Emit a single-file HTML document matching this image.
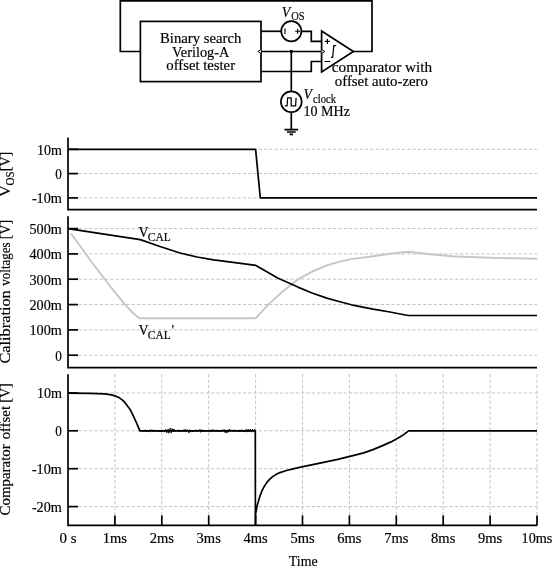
<!DOCTYPE html>
<html><head><meta charset="utf-8"><title>Figure</title>
<style>html,body{margin:0;padding:0;background:#fff}svg{display:block}svg text{font-family:"Liberation Serif","DejaVu Serif",serif}</style></head>
<body>
<svg width="553" height="567" viewBox="0 0 553 567"  fill="#000" stroke="none">
<rect width="553" height="567" fill="#fff"/>
<g fill="none" stroke="#000" stroke-width="1.7" stroke-linejoin="miter">
<path d="M140.5,51.5 H120.3 V0.9 H372 V51.5 H353"/>
<rect x="140.4" y="21.4" width="120.6" height="60.2"/>
<path d="M261.1,31.3 H281.2"/>
<circle cx="291.3" cy="31.2" r="10.1"/>
<path d="M301.4,31.3 H311.3 V41.4 H321.8"/>
<path d="M261.1,51.5 H321.8"/>
<path d="M261.1,71.5 H311.3 V61.5 H321.8"/>
<path d="M321.6,31.0 L353.4,51.5 L321.6,71.9 Z"/>
<path d="M291.3,51.5 V91.3"/>
<circle cx="291.3" cy="101.7" r="10.4"/>
<path d="M291.3,112.1 V129.6"/>
<path d="M284.5,129.6 H298.1 M286.9,132 H295.7 M289.6,134.3 H293"/>
<path d="M284.9,105.9 H287.1 L287.6,97.9 H291.2 V105.9 H295.6 L296.1,97.9" stroke-width="1.25"/>
<path d="M261,49.6 L257.9,51.5 L261,53.4" stroke-width="1" fill="#fff"/>
<path d="M321.7,49.7 L324.8,51.5 L321.7,53.3" stroke-width="1" fill="#fff"/>
<path d="M285,28.5 V34 M295.2,31.2 H300.2 M297.7,28.7 V33.7" stroke-width="1.1"/>
<path d="M324.9,41.4 H329.9 M327.4,38.9 V43.9 M324.5,61.5 H330.3" stroke-width="1.2"/>
<path d="M336.2,45.6 H333.8 L332.7,57.4 H331.0" stroke-width="1.2"/>
</g>
<circle cx="291.3" cy="51.5" r="1.8" fill="#000"/>
<text x="200.7" y="43.0" font-size="14.5" text-anchor="middle" textLength="81.3" lengthAdjust="spacingAndGlyphs" stroke="#111" stroke-width="0.2" >Binary search</text>
<text x="200.7" y="56.7" font-size="14.5" text-anchor="middle" textLength="57.2" lengthAdjust="spacingAndGlyphs" stroke="#111" stroke-width="0.2" >Verilog-A</text>
<text x="200.7" y="70.3" font-size="14.5" text-anchor="middle" textLength="68.7" lengthAdjust="spacingAndGlyphs" stroke="#111" stroke-width="0.2" >offset tester</text>
<text x="382.0" y="72.2" font-size="14.5" text-anchor="middle" textLength="100.3" lengthAdjust="spacingAndGlyphs" stroke="#111" stroke-width="0.2" >comparator with</text>
<text x="381.4" y="86.0" font-size="14.5" text-anchor="middle" textLength="93.1" lengthAdjust="spacingAndGlyphs" stroke="#111" stroke-width="0.2" >offset auto-zero</text>
<text x="281.8" y="17.4" font-size="14.5" stroke="#111" stroke-width="0.2"><tspan font-style="italic" font-size="14">V</tspan><tspan x="291.2" y="20.3" font-size="12.5" textLength="13.4" lengthAdjust="spacingAndGlyphs">OS</tspan></text>
<text x="303.5" y="99.2" font-size="14.5" stroke="#111" stroke-width="0.2"><tspan font-style="italic" font-size="14">V</tspan><tspan x="313.0" y="102.9" font-size="12.5" textLength="23" lengthAdjust="spacingAndGlyphs">clock</tspan></text>
<text x="303.4" y="115.9" font-size="14.5" text-anchor="start" textLength="46.5" lengthAdjust="spacingAndGlyphs" stroke="#111" stroke-width="0.2" >10 MHz</text>
<line x1="68.0" y1="149.3" x2="537.0" y2="149.3" stroke="#c2c2c2" stroke-width="1" stroke-dasharray="3.2,2.1"/>
<line x1="68.0" y1="173.6" x2="537.0" y2="173.6" stroke="#c2c2c2" stroke-width="1" stroke-dasharray="3.2,2.1"/>
<line x1="68.0" y1="197.9" x2="537.0" y2="197.9" stroke="#c2c2c2" stroke-width="1" stroke-dasharray="3.2,2.1"/>
<line x1="68.0" y1="149.3" x2="78.0" y2="149.3" stroke="#000" stroke-width="1.7" />
<line x1="68.0" y1="173.6" x2="78.0" y2="173.6" stroke="#000" stroke-width="1.7" />
<line x1="68.0" y1="197.9" x2="78.0" y2="197.9" stroke="#000" stroke-width="1.7" />
<polyline points="68.0,149.3 255.6,149.3 260.3,197.9 537.0,197.9" fill="none" stroke="#000" stroke-width="1.7" stroke-linejoin="round" />
<path d="M68.0,137.6 V209.6 H537.0" fill="none" stroke="#000" stroke-width="1.7" stroke-linejoin="miter" stroke-linecap="butt"/>
<text x="61.9" y="154.7" font-size="14.5" text-anchor="end" textLength="25.0" lengthAdjust="spacingAndGlyphs" stroke="#111" stroke-width="0.2" >10m</text>
<text x="61.9" y="179.0" font-size="14.5" text-anchor="end" textLength="6.6" lengthAdjust="spacingAndGlyphs" stroke="#111" stroke-width="0.2" >0</text>
<text x="61.9" y="203.3" font-size="14.5" text-anchor="end" textLength="30.0" lengthAdjust="spacingAndGlyphs" stroke="#111" stroke-width="0.2" >-10m</text>
<line x1="68.0" y1="228.6" x2="537.0" y2="228.6" stroke="#c2c2c2" stroke-width="1" stroke-dasharray="3.2,2.1"/>
<line x1="68.0" y1="253.9" x2="537.0" y2="253.9" stroke="#c2c2c2" stroke-width="1" stroke-dasharray="3.2,2.1"/>
<line x1="68.0" y1="279.2" x2="537.0" y2="279.2" stroke="#c2c2c2" stroke-width="1" stroke-dasharray="3.2,2.1"/>
<line x1="68.0" y1="304.6" x2="537.0" y2="304.6" stroke="#c2c2c2" stroke-width="1" stroke-dasharray="3.2,2.1"/>
<line x1="68.0" y1="329.9" x2="537.0" y2="329.9" stroke="#c2c2c2" stroke-width="1" stroke-dasharray="3.2,2.1"/>
<line x1="68.0" y1="355.2" x2="537.0" y2="355.2" stroke="#c2c2c2" stroke-width="1" stroke-dasharray="3.2,2.1"/>
<line x1="68.0" y1="228.6" x2="78.0" y2="228.6" stroke="#000" stroke-width="1.7" />
<line x1="68.0" y1="253.9" x2="78.0" y2="253.9" stroke="#000" stroke-width="1.7" />
<line x1="68.0" y1="279.2" x2="78.0" y2="279.2" stroke="#000" stroke-width="1.7" />
<line x1="68.0" y1="304.6" x2="78.0" y2="304.6" stroke="#000" stroke-width="1.7" />
<line x1="68.0" y1="329.9" x2="78.0" y2="329.9" stroke="#000" stroke-width="1.7" />
<line x1="68.0" y1="355.2" x2="78.0" y2="355.2" stroke="#000" stroke-width="1.7" />
<polyline points="71.0,233.5 81.7,248.2 92.0,262.5 103.4,277.5 114.0,291.2 125.1,304.6 133.0,313.0 139.2,318.2 255.9,318.2 268.9,303.9 283.4,290.9 297.9,279.3 312.3,271.5 326.8,265.4 339.0,261.8 351.4,259.1 373.1,256.2 390.0,253.8 408.4,251.8 430.0,254.3 452.3,256.2 475.0,257.2 495.7,257.9 537.0,258.8" fill="none" stroke="#c6c6c6" stroke-width="1.9" stroke-linejoin="round" />
<polyline points="68.0,228.7 140.3,239.6 160.0,246.5 180.0,253.0 197.0,257.0 213.7,259.9 235.0,262.7 255.9,265.4 266.0,271.3 277.6,277.9 297.9,287.1 312.0,293.0 326.8,298.1 340.0,301.8 351.4,304.8 373.1,309.1 390.0,312.0 400.0,314.0 408.4,315.5 537.0,315.5" fill="none" stroke="#000" stroke-width="1.7" stroke-linejoin="round" />
<path d="M68.0,216.3 V367.7 H537.0" fill="none" stroke="#000" stroke-width="1.7" stroke-linejoin="miter" stroke-linecap="butt"/>
<text x="61.9" y="234.0" font-size="14.5" text-anchor="end" textLength="32.4" lengthAdjust="spacingAndGlyphs" stroke="#111" stroke-width="0.2" >500m</text>
<text x="61.9" y="259.3" font-size="14.5" text-anchor="end" textLength="32.4" lengthAdjust="spacingAndGlyphs" stroke="#111" stroke-width="0.2" >400m</text>
<text x="61.9" y="284.6" font-size="14.5" text-anchor="end" textLength="32.4" lengthAdjust="spacingAndGlyphs" stroke="#111" stroke-width="0.2" >300m</text>
<text x="61.9" y="310.0" font-size="14.5" text-anchor="end" textLength="32.4" lengthAdjust="spacingAndGlyphs" stroke="#111" stroke-width="0.2" >200m</text>
<text x="61.9" y="335.3" font-size="14.5" text-anchor="end" textLength="32.4" lengthAdjust="spacingAndGlyphs" stroke="#111" stroke-width="0.2" >100m</text>
<text x="61.9" y="360.6" font-size="14.5" text-anchor="end" textLength="6.6" lengthAdjust="spacingAndGlyphs" stroke="#111" stroke-width="0.2" >0</text>
<text x="138.4" y="236.9" font-size="14" stroke="#111" stroke-width="0.2">V<tspan x="147.8" dy="3.9" font-size="11.5" textLength="22.9" lengthAdjust="spacingAndGlyphs">CAL</tspan></text>
<text x="138.4" y="334.6" font-size="14" stroke="#111" stroke-width="0.2">V<tspan x="147.8" dy="3.9" font-size="11.5" textLength="22.9" lengthAdjust="spacingAndGlyphs">CAL</tspan><tspan x="171.5" dy="-3.9" font-size="14.5">'</tspan></text>
<line x1="68.0" y1="393.0" x2="537.0" y2="393.0" stroke="#c2c2c2" stroke-width="1" stroke-dasharray="3.2,2.1"/>
<line x1="68.0" y1="430.8" x2="537.0" y2="430.8" stroke="#c2c2c2" stroke-width="1" stroke-dasharray="3.2,2.1"/>
<line x1="68.0" y1="468.7" x2="537.0" y2="468.7" stroke="#c2c2c2" stroke-width="1" stroke-dasharray="3.2,2.1"/>
<line x1="68.0" y1="506.6" x2="537.0" y2="506.6" stroke="#c2c2c2" stroke-width="1" stroke-dasharray="3.2,2.1"/>
<line x1="114.9" y1="374.2" x2="114.9" y2="525.4" stroke="#c2c2c2" stroke-width="1" stroke-dasharray="3.2,2.1"/>
<line x1="161.8" y1="374.2" x2="161.8" y2="525.4" stroke="#c2c2c2" stroke-width="1" stroke-dasharray="3.2,2.1"/>
<line x1="208.7" y1="374.2" x2="208.7" y2="525.4" stroke="#c2c2c2" stroke-width="1" stroke-dasharray="3.2,2.1"/>
<line x1="255.6" y1="374.2" x2="255.6" y2="525.4" stroke="#c2c2c2" stroke-width="1" stroke-dasharray="3.2,2.1"/>
<line x1="302.5" y1="374.2" x2="302.5" y2="525.4" stroke="#c2c2c2" stroke-width="1" stroke-dasharray="3.2,2.1"/>
<line x1="349.4" y1="374.2" x2="349.4" y2="525.4" stroke="#c2c2c2" stroke-width="1" stroke-dasharray="3.2,2.1"/>
<line x1="396.3" y1="374.2" x2="396.3" y2="525.4" stroke="#c2c2c2" stroke-width="1" stroke-dasharray="3.2,2.1"/>
<line x1="443.2" y1="374.2" x2="443.2" y2="525.4" stroke="#c2c2c2" stroke-width="1" stroke-dasharray="3.2,2.1"/>
<line x1="490.1" y1="374.2" x2="490.1" y2="525.4" stroke="#c2c2c2" stroke-width="1" stroke-dasharray="3.2,2.1"/>
<line x1="537.0" y1="374.2" x2="537.0" y2="525.4" stroke="#c2c2c2" stroke-width="1" stroke-dasharray="3.2,2.1"/>
<line x1="68.0" y1="393.0" x2="78.0" y2="393.0" stroke="#000" stroke-width="1.7" />
<line x1="68.0" y1="430.8" x2="78.0" y2="430.8" stroke="#000" stroke-width="1.7" />
<line x1="68.0" y1="468.7" x2="78.0" y2="468.7" stroke="#000" stroke-width="1.7" />
<line x1="68.0" y1="506.6" x2="78.0" y2="506.6" stroke="#000" stroke-width="1.7" />
<polyline points="140.5,431.3 141.5,430.3 142.6,431.7 143.3,430.6 144.5,431.3 145.4,429.7 146.4,431.9 147.3,430.0 148.1,431.8 149.4,429.8 150.5,432.1 151.2,429.6 152.3,431.4 153.0,429.8 154.0,431.8 155.2,429.9 156.5,431.5 157.7,430.2 158.9,431.9 159.7,430.5 160.5,432.0 161.5,430.0 162.3,431.6 163.3,430.3 164.3,432.1 165.6,429.3 166.8,432.9 168.1,428.9 168.9,433.3 170.2,428.1 171.2,433.0 172.1,428.6 173.1,431.9 173.8,428.9 175.1,431.4 176.3,430.2 177.1,431.4 178.3,429.8 179.0,431.7 179.7,429.9 180.6,431.9 181.9,430.1 183.2,431.6 184.0,429.5 184.7,431.6 185.6,429.2 186.4,431.5 187.6,429.7 188.9,432.9 189.8,429.7 190.9,432.1 191.9,430.1 193.0,432.0 194.0,430.2 195.1,431.3 196.0,429.7 197.0,431.7 197.7,430.0 198.8,431.2 199.8,429.3 200.6,432.3 201.6,429.6 202.5,432.0 203.6,430.6 204.3,431.7 205.6,430.4 206.6,431.7 207.5,430.3 208.4,431.4 209.4,430.3 210.4,432.1 211.1,429.7 212.2,431.7 213.0,429.4 213.9,431.4 214.9,429.9 215.6,431.4 216.5,429.8 217.5,431.9 218.3,430.3 219.4,431.9 220.3,430.4 221.1,431.6 221.9,429.8 223.1,431.4 224.0,429.3 225.1,432.7 226.0,430.1 226.9,433.1 227.7,429.7 228.7,432.1 229.6,429.0 230.4,431.2 231.7,429.8 233.0,431.5 234.2,429.7 235.1,431.8 236.3,430.0 237.3,431.5 238.2,430.2 238.9,431.8 239.8,429.8 240.5,432.0 241.7,429.7 242.9,432.0 243.9,430.6 245.1,431.5 246.0,429.3 247.0,432.1 248.2,429.0 249.1,432.0 250.4,429.0 251.5,432.2 252.4,429.2 253.5,431.6 254.7,429.0" fill="none" stroke="#000" stroke-width="0.9" stroke-linejoin="round" />
<polyline points="68.0,393.2 90.0,393.4 104.5,393.9 110.0,394.6 115.3,395.9 119.0,397.6 122.9,400.4 126.0,403.9 129.4,408.4 132.0,413.2 134.9,419.4 137.5,425.2 139.9,430.9 255.3,430.9 255.4,524.8 255.6,513.8 257.3,505.2 259.5,497.4 261.8,491.2 264.4,486.1 266.7,482.6 269.3,479.6 272.3,476.9 275.8,474.6 280.0,472.6 285.6,470.8 293.0,468.9 301.8,466.9 320.0,463.1 337.7,459.4 351.0,456.2 363.7,452.9 373.0,449.6 383.2,445.4 391.0,441.9 399.5,437.2 404.0,434.4 408.6,430.9 537.0,430.9" fill="none" stroke="#000" stroke-width="1.7" stroke-linejoin="round" />
<path d="M68.0,374.2 V525.4 H537.0" fill="none" stroke="#000" stroke-width="1.7" stroke-linejoin="miter" stroke-linecap="butt"/>
<text x="61.9" y="398.4" font-size="14.5" text-anchor="end" textLength="25.0" lengthAdjust="spacingAndGlyphs" stroke="#111" stroke-width="0.2" >10m</text>
<text x="61.9" y="436.2" font-size="14.5" text-anchor="end" textLength="6.6" lengthAdjust="spacingAndGlyphs" stroke="#111" stroke-width="0.2" >0</text>
<text x="61.9" y="474.1" font-size="14.5" text-anchor="end" textLength="30.0" lengthAdjust="spacingAndGlyphs" stroke="#111" stroke-width="0.2" >-10m</text>
<text x="61.9" y="512.0" font-size="14.5" text-anchor="end" textLength="30.0" lengthAdjust="spacingAndGlyphs" stroke="#111" stroke-width="0.2" >-20m</text>
<line x1="114.9" y1="515.4" x2="114.9" y2="525.4" stroke="#000" stroke-width="1.7" />
<line x1="161.8" y1="515.4" x2="161.8" y2="525.4" stroke="#000" stroke-width="1.7" />
<line x1="208.7" y1="515.4" x2="208.7" y2="525.4" stroke="#000" stroke-width="1.7" />
<line x1="255.6" y1="515.4" x2="255.6" y2="525.4" stroke="#000" stroke-width="1.7" />
<line x1="302.5" y1="515.4" x2="302.5" y2="525.4" stroke="#000" stroke-width="1.7" />
<line x1="349.4" y1="515.4" x2="349.4" y2="525.4" stroke="#000" stroke-width="1.7" />
<line x1="396.3" y1="515.4" x2="396.3" y2="525.4" stroke="#000" stroke-width="1.7" />
<line x1="443.2" y1="515.4" x2="443.2" y2="525.4" stroke="#000" stroke-width="1.7" />
<line x1="490.1" y1="515.4" x2="490.1" y2="525.4" stroke="#000" stroke-width="1.7" />
<line x1="537.0" y1="515.4" x2="537.0" y2="525.4" stroke="#000" stroke-width="1.7" />
<text x="68.0" y="543.0" font-size="14.5" text-anchor="middle" textLength="17.0" lengthAdjust="spacingAndGlyphs" stroke="#111" stroke-width="0.2" >0 s</text>
<text x="114.9" y="543.0" font-size="14.5" text-anchor="middle" textLength="24.2" lengthAdjust="spacingAndGlyphs" stroke="#111" stroke-width="0.2" >1ms</text>
<text x="161.8" y="543.0" font-size="14.5" text-anchor="middle" textLength="24.2" lengthAdjust="spacingAndGlyphs" stroke="#111" stroke-width="0.2" >2ms</text>
<text x="208.7" y="543.0" font-size="14.5" text-anchor="middle" textLength="24.2" lengthAdjust="spacingAndGlyphs" stroke="#111" stroke-width="0.2" >3ms</text>
<text x="255.6" y="543.0" font-size="14.5" text-anchor="middle" textLength="24.2" lengthAdjust="spacingAndGlyphs" stroke="#111" stroke-width="0.2" >4ms</text>
<text x="302.5" y="543.0" font-size="14.5" text-anchor="middle" textLength="24.2" lengthAdjust="spacingAndGlyphs" stroke="#111" stroke-width="0.2" >5ms</text>
<text x="349.4" y="543.0" font-size="14.5" text-anchor="middle" textLength="24.2" lengthAdjust="spacingAndGlyphs" stroke="#111" stroke-width="0.2" >6ms</text>
<text x="396.3" y="543.0" font-size="14.5" text-anchor="middle" textLength="24.2" lengthAdjust="spacingAndGlyphs" stroke="#111" stroke-width="0.2" >7ms</text>
<text x="443.2" y="543.0" font-size="14.5" text-anchor="middle" textLength="24.2" lengthAdjust="spacingAndGlyphs" stroke="#111" stroke-width="0.2" >8ms</text>
<text x="490.1" y="543.0" font-size="14.5" text-anchor="middle" textLength="24.2" lengthAdjust="spacingAndGlyphs" stroke="#111" stroke-width="0.2" >9ms</text>
<text x="537.0" y="543.0" font-size="14.5" text-anchor="middle" textLength="30.8" lengthAdjust="spacingAndGlyphs" stroke="#111" stroke-width="0.2" >10ms</text>
<text x="303.2" y="565.8" font-size="14.5" text-anchor="middle" textLength="28.8" lengthAdjust="spacingAndGlyphs" stroke="#111" stroke-width="0.2" >Time</text>
<text transform="translate(10.2,197.6) rotate(-90)" font-size="17.5" stroke="#111" stroke-width="0.2">V<tspan x="12.0" y="4.0" font-size="13.5" textLength="14.2" lengthAdjust="spacingAndGlyphs">OS</tspan><tspan x="26.4" y="0" font-size="15" textLength="19.4" lengthAdjust="spacingAndGlyphs">[V]</tspan></text>
<text transform="translate(10.2,363.5) rotate(-90)" font-size="14.5" stroke="#111" stroke-width="0.2"><tspan x="0.0" y="0" textLength="73.2" lengthAdjust="spacingAndGlyphs">Calibration</tspan><tspan x="77.8" y="0" textLength="43.3" lengthAdjust="spacingAndGlyphs">voltages</tspan><tspan x="124.3" y="0" textLength="19.2" lengthAdjust="spacingAndGlyphs">[V]</tspan></text>
<text transform="translate(10.2,515.5) rotate(-90)" font-size="14.5" stroke="#111" stroke-width="0.2"><tspan x="0.0" y="0" textLength="71.3" lengthAdjust="spacingAndGlyphs">Comparator</tspan><tspan x="76.2" y="0" textLength="33.3" lengthAdjust="spacingAndGlyphs">offset</tspan><tspan x="112.7" y="0" textLength="19.6" lengthAdjust="spacingAndGlyphs">[V]</tspan></text>
</svg>
</body></html>
